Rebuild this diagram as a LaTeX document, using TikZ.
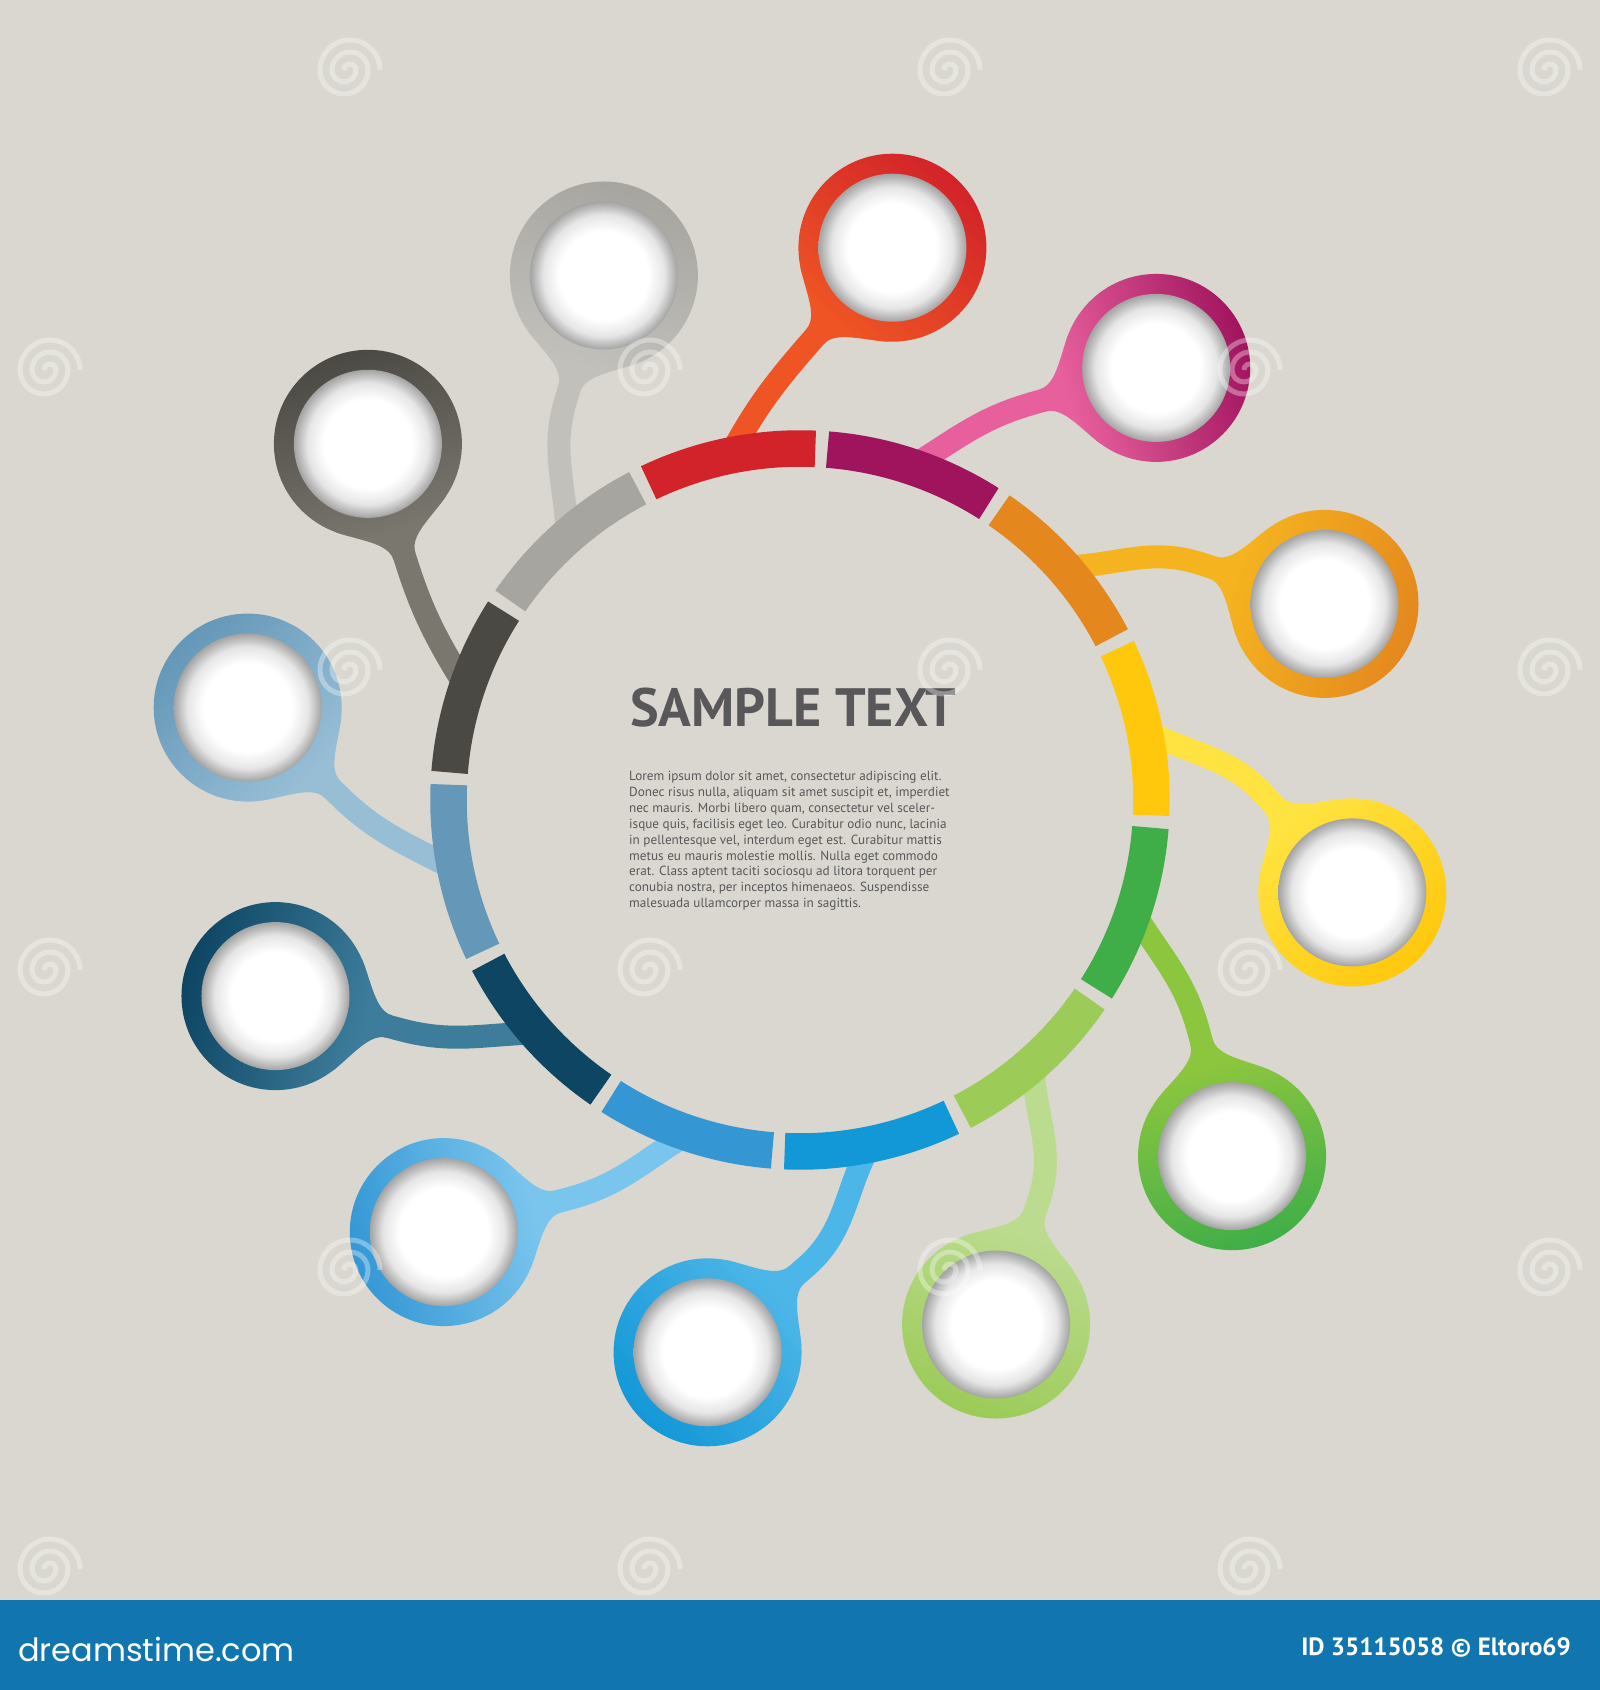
\documentclass[tikz,border=0pt]{standalone}
\usepackage{fontspec}
\setmainfont{PT Sans}
\newfontfamily\logofont{Poppins}
\usepackage{xcolor}
\usepackage{tikz}
\usetikzlibrary{calc}

\definecolor{bg}{HTML}{D9D7CF}
\definecolor{barblue}{HTML}{1176AF}
\definecolor{txtgray}{HTML}{58585A}
\definecolor{redseg}{HTML}{D2232A}
\definecolor{redstem}{HTML}{EE5424}
\definecolor{magseg}{HTML}{A0145E}
\definecolor{magstem}{HTML}{E7609D}
\definecolor{orngseg}{HTML}{E4881E}
\definecolor{orngstem}{HTML}{F5B31F}
\definecolor{yellseg}{HTML}{FFC80D}
\definecolor{yellstem}{HTML}{FFE340}
\definecolor{grnseg}{HTML}{40AE48}
\definecolor{grnstem}{HTML}{8CC63E}
\definecolor{lgrnseg}{HTML}{9CCB58}
\definecolor{lgrnstem}{HTML}{BBDB8E}
\definecolor{blueseg}{HTML}{1398D7}
\definecolor{bluestem}{HTML}{4DB6E8}
\definecolor{lbluseg}{HTML}{3497D4}
\definecolor{lblustem}{HTML}{7AC5EE}
\definecolor{tealseg}{HTML}{0D4563}
\definecolor{tealstem}{HTML}{3D7D9B}
\definecolor{steelseg}{HTML}{6597B8}
\definecolor{steelstem}{HTML}{98BED6}
\definecolor{dgrayseg}{HTML}{4B4943}
\definecolor{dgraystem}{HTML}{7A776F}
\definecolor{grayseg}{HTML}{A6A59F}
\definecolor{graystem}{HTML}{C1C0BB}

\pgfdeclareradialshading{hole}{\pgfpoint{0bp}{0bp}}{color(0bp)=(white); color(15bp)=(white); color(20.5bp)=(black!10); color(25bp)=(black!36); color(50bp)=(black!36)}

\begin{document}
\begin{tikzpicture}[x=1pt,y=1pt]
\tikzstyle{seg}=[line width=36.5pt]
\tikzstyle{stem}=[line width=23pt]
\tikzstyle{bubble}=[circle,inner sep=0pt,minimum size=188pt]
\tikzstyle{hole}=[circle,inner sep=0pt,minimum size=148pt,shade,shading=hole]
\tikzstyle{wmark}=[white,opacity=0.35,line width=5pt]
\tikzset{fillet/.pic={\fill (0,0) -- (74.1,57.9) .. controls (89.5,38.2) and (100,11.5) .. (118,11.5) -- (118,-11.5) .. controls (100,-11.5) and (89.5,-38.2) .. (74.1,-57.9) -- cycle;}}
\useasboundingbox (-800,-890) rectangle (800,800);
\fill[bg] (-800,-890) rectangle (800,800);
\fill[barblue] (-800,-890) rectangle (800,-800);

% junctions on the ring, bubble centres, stem ends
\coordinate (c) at (0,0);
\coordinate (j0) at (101.5:351.5);
\coordinate (j1) at (71.5:351.5);
\coordinate (j2) at (41.5:351.5);
\coordinate (j3) at (11.5:351.5);
\coordinate (j4) at (-18.5:351.5);
\coordinate (j5) at (-48.5:351.5);
\coordinate (j6) at (-78.5:351.5);
\coordinate (j7) at (-108.5:351.5);
\coordinate (j8) at (-138.5:351.5);
\coordinate (j9) at (-168.5:351.5);
\coordinate (j10) at (161.5:351.5);
\coordinate (j11) at (131.5:351.5);
\coordinate (p0) at (80.5:560);
\coordinate (p1) at (50.5:560);
\coordinate (p2) at (20.5:560);
\coordinate (p3) at (-9.5:560);
\coordinate (p4) at (-39.5:560);
\coordinate (p5) at (-69.5:560);
\coordinate (p6) at (-99.5:560);
\coordinate (p7) at (-129.5:560);
\coordinate (p8) at (-159.5:560);
\coordinate (p9) at (170.5:560);
\coordinate (p10) at (140.5:560);
\coordinate (p11) at (110.5:560);
\coordinate (q0) at ($(p0)+(229:130)$);
\coordinate (q1) at ($(p1)+(196:130)$);
\coordinate (q2) at ($(p2)+(162:130)$);
\coordinate (q3) at ($(p3)+(132:130)$);
\coordinate (q4) at ($(p4)+(105:130)$);
\coordinate (q5) at ($(p5)+(71:130)$);
\coordinate (q6) at ($(p6)+(41:130)$);
\coordinate (q7) at ($(p7)+(15:130)$);
\coordinate (q8) at ($(p8)+(-15:130)$);
\coordinate (q9) at ($(p9)+(-44:130)$);
\coordinate (q10) at ($(p10)+(-72:130)$);
\coordinate (q11) at ($(p11)+(-107:130)$);

% stems
\draw [stem,redstem] (j0) to [out=61.5,in=229] (q0) -- (p0);
\draw [stem,magstem] (j1) to [out=31.5,in=196] (q1) -- (p1);
\draw [stem,orngstem] (j2) to [out=1.5,in=162] (q2) -- (p2);
\draw [stem,yellstem] (j3) to [out=-28.5,in=132] (q3) -- (p3);
\draw [stem,grnstem] (j4) to [out=-58.5,in=105] (q4) -- (p4);
\draw [stem,lgrnstem] (j5) to [out=-88.5,in=71] (q5) -- (p5);
\draw [stem,bluestem] (j6) to [out=-118.5,in=41] (q6) -- (p6);
\draw [stem,lblustem] (j7) to [out=-148.5,in=15] (q7) -- (p7);
\draw [stem,tealstem] (j8) to [out=-178.5,in=-15] (q8) -- (p8);
\draw [stem,steelstem] (j9) to [out=151.5,in=-44] (q9) -- (p9);
\draw [stem,dgraystem] (j10) to [out=121.5,in=-72] (q10) -- (p10);
\draw [stem,graystem] (j11) to [out=91.5,in=-107] (q11) -- (p11);
\pic [redstem,rotate=229] at (p0) {fillet};
\pic [magstem,rotate=196] at (p1) {fillet};
\pic [orngstem,rotate=162] at (p2) {fillet};
\pic [yellstem,rotate=132] at (p3) {fillet};
\pic [grnstem,rotate=105] at (p4) {fillet};
\pic [lgrnstem,rotate=71] at (p5) {fillet};
\pic [bluestem,rotate=41] at (p6) {fillet};
\pic [lblustem,rotate=15] at (p7) {fillet};
\pic [tealstem,rotate=-15] at (p8) {fillet};
\pic [steelstem,rotate=-44] at (p9) {fillet};
\pic [dgraystem,rotate=-72] at (p10) {fillet};
\pic [graystem,rotate=-107] at (p11) {fillet};

% ring segments
\draw [seg,redseg] (115.5:351.5) arc [start angle=115.5,end angle=87.5,radius=351.5];
\draw [seg,magseg] (85.5:351.5) arc [start angle=85.5,end angle=57.5,radius=351.5];
\draw [seg,orngseg] (55.5:351.5) arc [start angle=55.5,end angle=27.5,radius=351.5];
\draw [seg,yellseg] (25.5:351.5) arc [start angle=25.5,end angle=-2.5,radius=351.5];
\draw [seg,grnseg] (-4.5:351.5) arc [start angle=-4.5,end angle=-32.5,radius=351.5];
\draw [seg,lgrnseg] (-34.5:351.5) arc [start angle=-34.5,end angle=-62.5,radius=351.5];
\draw [seg,blueseg] (-64.5:351.5) arc [start angle=-64.5,end angle=-92.5,radius=351.5];
\draw [seg,lbluseg] (-94.5:351.5) arc [start angle=-94.5,end angle=-122.5,radius=351.5];
\draw [seg,tealseg] (-124.5:351.5) arc [start angle=-124.5,end angle=-152.5,radius=351.5];
\draw [seg,steelseg] (-154.5:351.5) arc [start angle=-154.5,end angle=-182.5,radius=351.5];
\draw [seg,dgrayseg] (175.5:351.5) arc [start angle=175.5,end angle=147.5,radius=351.5];
\draw [seg,grayseg] (145.5:351.5) arc [start angle=145.5,end angle=117.5,radius=351.5];

% bubbles
\node[bubble,top color=redstem,bottom color=redseg,shading angle=139] (b0) at (p0){};
\node[bubble,top color=magstem,bottom color=magseg,shading angle=106] (b1) at (p1){};
\node[bubble,top color=orngstem,bottom color=orngseg,shading angle=72] (b2) at (p2){};
\node[bubble,top color=yellstem,bottom color=yellseg,shading angle=42] (b3) at (p3){};
\node[bubble,top color=grnstem,bottom color=grnseg,shading angle=15] (b4) at (p4){};
\node[bubble,top color=lgrnstem,bottom color=lgrnseg,shading angle=-19] (b5) at (p5){};
\node[bubble,top color=bluestem,bottom color=blueseg,shading angle=-49] (b6) at (p6){};
\node[bubble,top color=lblustem,bottom color=lbluseg,shading angle=-75] (b7) at (p7){};
\node[bubble,top color=tealstem,bottom color=tealseg,shading angle=-105] (b8) at (p8){};
\node[bubble,top color=steelstem,bottom color=steelseg,shading angle=-134] (b9) at (p9){};
\node[bubble,top color=dgraystem,bottom color=dgrayseg,shading angle=-162] (b10) at (p10){};
\node[bubble,top color=graystem,bottom color=grayseg,shading angle=-197] (b11) at (p11){};
\node[hole] (h0) at (b0){};
\node[hole] (h1) at (b1){};
\node[hole] (h2) at (b2){};
\node[hole] (h3) at (b3){};
\node[hole] (h4) at (b4){};
\node[hole] (h5) at (b5){};
\node[hole] (h6) at (b6){};
\node[hole] (h7) at (b7){};
\node[hole] (h8) at (b8){};
\node[hole] (h9) at (b9){};
\node[hole] (h10) at (b10){};
\node[hole] (h11) at (b11){};

% centre texts
\node[anchor=base west,inner sep=0pt,text=txtgray,font=\fontsize{54}{54}\selectfont\bfseries] (title) at (-170,73.3) {SAMPLE TEXT};
\node[anchor=north west,inner sep=0pt,text=txtgray,align=left,font=\fontsize{13.2}{15.9}\selectfont] (body) at (-171,29) {Lorem ipsum dolor sit amet, consectetur adipiscing elit.\\
Donec risus nulla, aliquam sit amet suscipit et, imperdiet\\
nec mauris. Morbi libero quam, consectetur vel sceler-\\
isque quis, facilisis eget leo. Curabitur odio nunc, lacinia\\
in pellentesque vel, interdum eget est. Curabitur mattis\\
metus eu mauris molestie mollis. Nulla eget commodo\\
erat. Class aptent taciti sociosqu ad litora torquent per\\
conubia nostra, per inceptos himenaeos. Suspendisse\\
malesuada ullamcorper massa in sagittis.};

% watermark spirals
\foreach \y in {730,130,-470} {
  \foreach \x in {-456,144,744} {
    \draw[wmark] (\x,\y) arc[start angle=180,end angle=0,radius=6] arc[start angle=0,end angle=-180,radius=12] arc[start angle=180,end angle=0,radius=18] arc[start angle=0,end angle=-180,radius=24] arc[start angle=180,end angle=0,radius=30];
  }
}
\foreach \y in {430,-170,-769} {
  \foreach \x in {-756,-156,444} {
    \draw[wmark] (\x,\y) arc[start angle=180,end angle=0,radius=6] arc[start angle=0,end angle=-180,radius=12] arc[start angle=180,end angle=0,radius=18] arc[start angle=0,end angle=-180,radius=24] arc[start angle=180,end angle=0,radius=30];
  }
}

% bottom bar
\node[anchor=base west,inner sep=0pt,text=white,font=\fontsize{32}{32}\selectfont\logofont] (logo) at (-782,-861.7) {dreamstime.com};
\node[anchor=base east,inner sep=0pt,text=white,font=\fontsize{25}{25}\selectfont\bfseries] (imgid) at (771,-855) {ID 35115058 © Eltoro69};
\end{tikzpicture}
\end{document}
